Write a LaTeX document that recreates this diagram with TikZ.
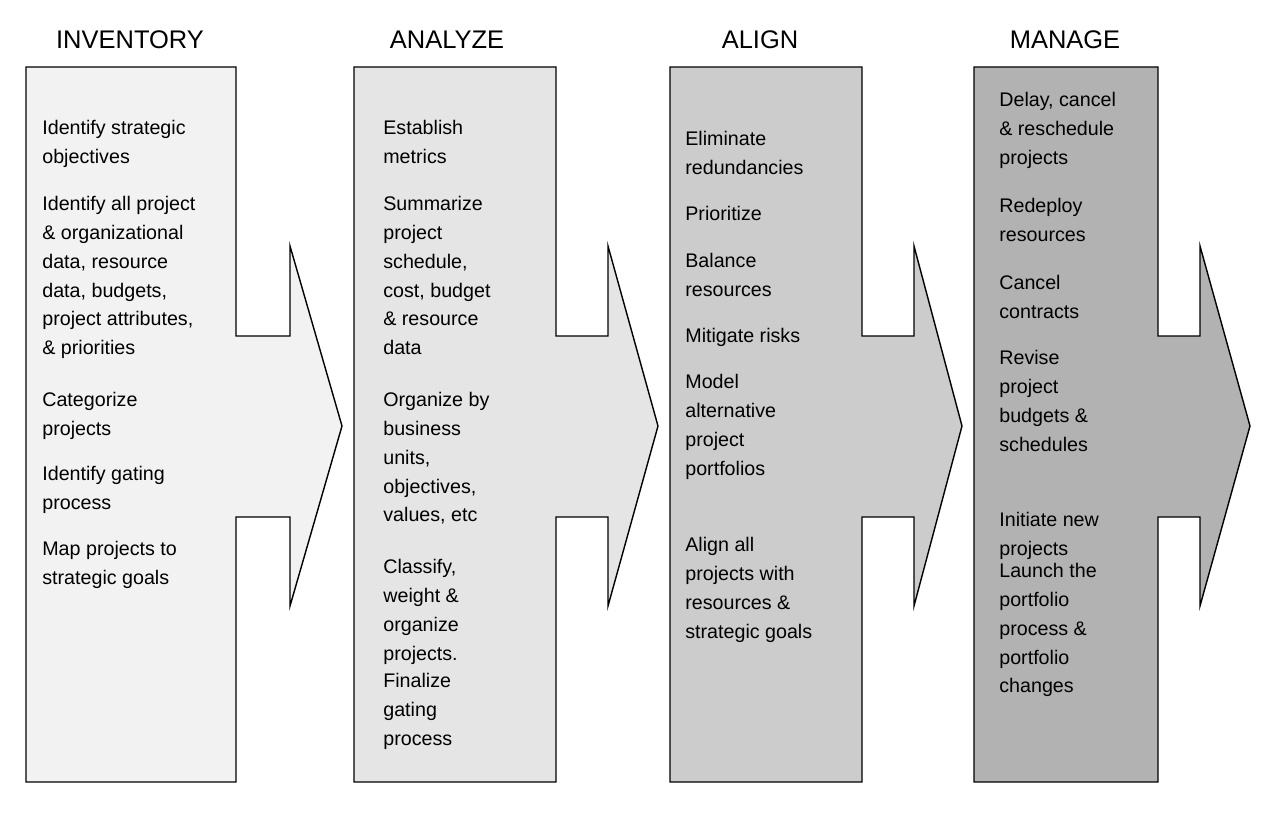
\documentclass[tikz,border=0pt]{standalone}
\usepackage{fontspec}
\setmainfont{Liberation Sans}

\begin{document}
\begin{tikzpicture}[x=0.02cm, y=-0.02cm,
    every node/.style={inner sep=0pt, font=\fontsize{11.2}{16.4}\selectfont},
    item/.style={anchor=north west, align=left},
    head/.style={font=\fontsize{14.5}{17}\selectfont}]
    \useasboundingbox (0,0) rectangle (1278,816);

    % Column shapes with their arrows
    \foreach \l/\r/\h/\t/\c in {26/236/290/342/black!5, 354/556/608/658/black!10,
                                670/862/914/962/black!20, 974/1158/1200/1250/black!30}
        \filldraw[fill=\c, draw=black, line width=0.8pt, line join=miter]
            (\l,67) -- (\r,67) -- (\r,336) -- (\h,336) -- (\h,246) -- (\t,426)
            -- (\h,606) -- (\h,517) -- (\r,517) -- (\r,782) -- (\l,782) -- cycle;

    % Headers
    \node[head] (hinv) at (130,40) {INVENTORY};
    \node[head] (hana) at (447,40) {ANALYZE};
    \node[head] (hali) at (760,40) {ALIGN};
    \node[head] (hman) at (1065,40) {MANAGE};

    % Inventory
    \node[item] (inv1) at (42,120) {Identify strategic\\objectives};
    \node[item] (inv2) at (42,196) {Identify all project\\\& organizational\\data, resource\\data, budgets,\\project attributes,\\\& priorities};
    \node[item] (inv3) at (42,392) {Categorize\\projects};
    \node[item] (inv4) at (42,466) {Identify gating\\process};
    \node[item] (inv5) at (42,541) {Map projects to\\strategic goals};

    % Analyze
    \node[item] (ana1) at (383,120) {Establish\\metrics};
    \node[item] (ana2) at (383,196) {Summarize\\project\\schedule,\\cost, budget\\\& resource\\data};
    \node[item] (ana3) at (383,392) {Organize by\\business\\units,\\objectives,\\values, etc};
    \node[item] (ana4) at (383,559) {Classify,\\weight \&\\organize\\projects.};
    \node[item] (ana5) at (383,673) {Finalize\\gating\\process};

    % Align
    \node[item] (ali1) at (685,131) {Eliminate\\redundancies};
    \node[item] (ali2) at (685,206) {Prioritize};
    \node[item] (ali3) at (685,253) {Balance\\resources};
    \node[item] (ali4) at (685,328) {Mitigate risks};
    \node[item] (ali5) at (685,374) {Model\\alternative\\project\\portfolios};
    \node[item] (ali6) at (685,537) {Align all\\projects with\\resources \&\\strategic goals};

    % Manage
    \node[item] (man1) at (999,92) {Delay, cancel\\\& reschedule\\projects};
    \node[item] (man2) at (999,198) {Redeploy\\resources};
    \node[item] (man3) at (999,275) {Cancel\\contracts};
    \node[item] (man4) at (999,350) {Revise\\project\\budgets \&\\schedules};
    \node[item] (man5) at (999,512) {Initiate new\\projects};
    \node[item] (man6) at (999,563) {Launch the\\portfolio\\process \&\\portfolio\\changes};
\end{tikzpicture}
\end{document}
